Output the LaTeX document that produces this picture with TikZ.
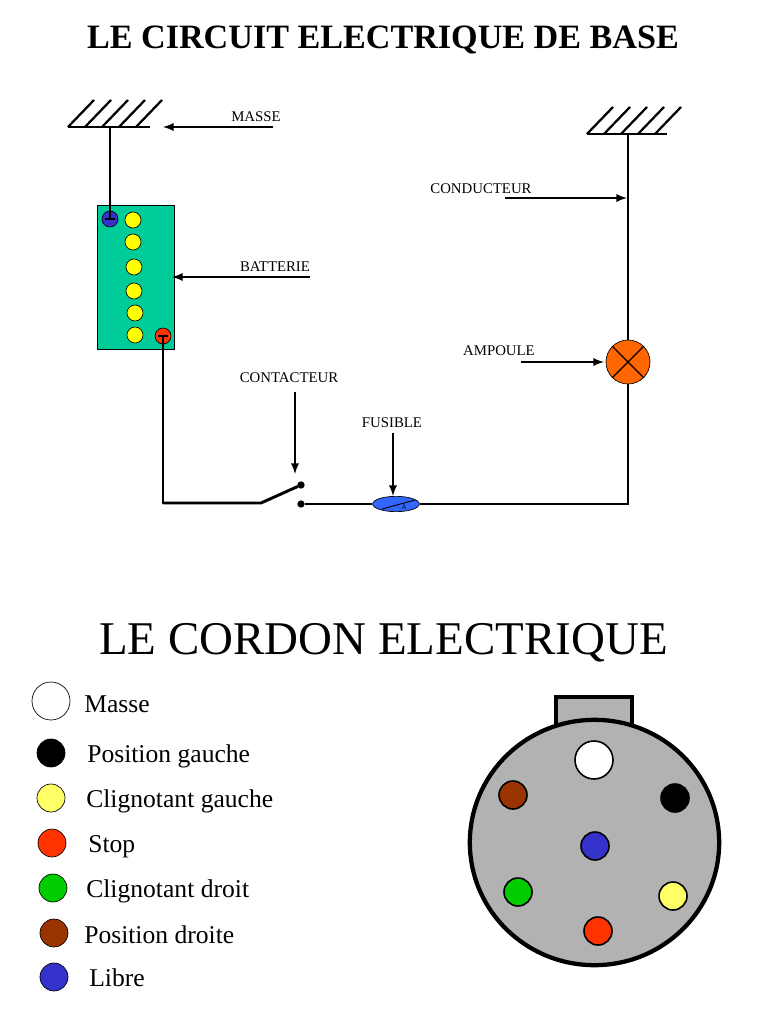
\documentclass[tikz,border=0pt]{standalone}
\usepackage{fontspec}
\setmainfont{Liberation Serif}
\usetikzlibrary{shapes.geometric}

\definecolor{battgreen}{RGB}{0,204,153}
\definecolor{cellyellow}{RGB}{255,255,0}
\definecolor{minusblue}{RGB}{51,51,204}
\definecolor{plusred}{RGB}{255,51,0}
\definecolor{lamporange}{RGB}{255,102,0}
\definecolor{fuseblue}{RGB}{51,102,255}
\definecolor{plugyellow}{RGB}{255,255,102}
\definecolor{pluggreen}{RGB}{0,204,0}
\definecolor{plugbrown}{RGB}{153,51,0}
\definecolor{pluggrey}{RGB}{178,178,178}

\begin{document}
\begin{tikzpicture}[x=0.75pt,y=-0.75pt,>=latex,
    wire/.style={line width=2.2pt},
    pointer/.style={line width=1.7pt,->},
    tag/.style={font=\fontsize{11.1}{13}\selectfont,inner sep=0pt},
    entry/.style={font=\fontsize{19.2}{22}\selectfont,anchor=base west,inner sep=0pt},
    dot/.style={circle,draw=black,line width=0.5pt,inner sep=0pt,minimum size=12pt},
    pin/.style={circle,draw=black,line width=1.2pt,inner sep=0pt,minimum size=21pt},
    stud/.style={circle,fill=black,inner sep=0pt,minimum size=5.5pt}]

  \useasboundingbox (0,0) rectangle (768,1024);

  % titles
  \node[font=\bfseries\fontsize{25.6}{30}\selectfont] (title1) at (383,40) {LE CIRCUIT ELECTRIQUE DE BASE};
  \node[font=\fontsize{35.2}{42}\selectfont] (title2) at (383.5,643) {LE CORDON ELECTRIQUE};

  % draw the two ground symbols
  \foreach \x/\y/\w/\name in {68/127/82/gndL, 587/134/80/gndR} {
    \draw[wire] (\x,\y) -- ++(\w,0);
    \foreach \k in {0,17,34,51,68} {
      \draw[line width=1.7pt] (\x+\k,\y) -- ++(26,-27);
    }
  }
  \coordinate (gndL) at (110,127);
  \coordinate (gndR) at (628,134);

  % battery with its cells
  \node[draw=black,line width=0.5pt,fill=battgreen,minimum width=57.75pt,minimum height=108pt,inner sep=0pt] (batt) at (135.5,277) {};
  \foreach \x/\y [count=\i] in {133/220,133/242,134/267,134/291,135/313,135/335} {
    \node[dot,fill=cellyellow] (cell\i) at (\x,\y) {};
  }
  \node[dot,fill=minusblue] (neg) at (110,219) {};
  \node[dot,fill=plusred] (pos) at (163,336) {};
  \draw[line width=1pt] (neg.center) ++(-5,0) -- ++(10,0);
  \draw[line width=1pt] (pos.center) ++(-5,0) -- ++(10,0);

  % switch, fuse, lamp
  \node[stud] (sw1) at (301,485) {};
  \node[stud] (sw2) at (301,504) {};
  \coordinate (hinge) at (261,503);
  \coordinate (corner1) at (163,503);
  \coordinate (corner2) at (628,504);
  \node[ellipse,draw=black,line width=0.5pt,fill=fuseblue,minimum width=35pt,minimum height=11.5pt,inner sep=0pt] (fuse) at (396,504) {};
  \draw[line width=0.7pt] (382,509) -- (415,500);
  \node[font=\fontsize{5.5}{6}\selectfont,inner sep=0pt] (fuseval) at (404,507) {A};
  \node[circle,draw=black,line width=0.5pt,fill=lamporange,minimum size=33pt,inner sep=0pt] (lamp) at (628,362) {};
  \draw[line width=1pt] (lamp.north east) -- (lamp.south west);
  \draw[line width=1pt] (lamp.north west) -- (lamp.south east);

  % wires of the circuit
  \draw[line width=1.6pt] (gndL) -- (neg.center);
  \draw[line width=1.6pt] (pos.center) -- (corner1);
  \draw[wire,line cap=round,line join=round] (corner1) -- (hinge) -- (sw1);
  \draw[line width=1.5pt] (sw2) -- (fuse);
  \draw[wire] (fuse) -- (corner2) -- (lamp);
  \draw[wire] (lamp) -- (gndR);

  % labels with their arrows
  \foreach \name/\txt/\lx/\ly/\sx/\sy/\ex/\ey in {
    masse/MASSE/256/117/273/127/163/127,
    batterie/BATTERIE/275/267/310/277/172/277,
    conducteur/CONDUCTEUR/481/189/505/198/627/198,
    ampoule/AMPOULE/499/351/521/362/604/362,
    contacteur/CONTACTEUR/289/378/295/392/295/474,
    fusible/FUSIBLE/392/423/393/433/393/496} {
    \node[tag] (\name) at (\lx,\ly) {\txt};
    \coordinate (\name-s) at (\sx,\sy);
    \coordinate (\name-e) at (\ex,\ey);
    \draw[pointer] (\name-s) -- (\name-e);
  }

  % legend
  \node[pin,line width=0.5pt,fill=white,minimum size=28.5pt] (legA) at (51,701) {};
  \foreach \col/\x/\y/\tx/\ty/\txt [count=\i] in {
    black/51/753/87/762/Position gauche,
    plugyellow/51/798/86/807/Clignotant gauche,
    plusred/52/843/88/852/Stop,
    pluggreen/53/888/86/897/Clignotant droit,
    plugbrown/54/933/84/943/Position droite,
    minusblue/54/977/89/986/Libre} {
    \node[pin,line width=0.5pt,fill=\col] (leg\i) at (\x,\y) {};
    \node[entry] (legtxt\i) at (\tx,\ty) {\txt};
  }
  \node[entry] (legtxtA) at (84,712) {Masse};

  % draw the plug
  \node[draw=black,line width=3.2pt,fill=pluggrey,minimum width=57pt,minimum height=25.5pt,inner sep=0pt] (tab) at (594,714) {};
  \node[ellipse,draw=black,line width=3.2pt,fill=pluggrey,minimum width=187pt,minimum height=184pt,inner sep=0pt] (plug) at (594.5,842.5) {};
  \node[pin,fill=white,minimum size=28.5pt] (pinA) at (594,760) {};
  \foreach \col/\x/\y [count=\i] in {
    black/675/798,
    plugyellow/673/896,
    plusred/598/931,
    pluggreen/518/892,
    plugbrown/513/795,
    minusblue/595/846} {
    \node[pin,fill=\col] (pin\i) at (\x,\y) {};
  }

\end{tikzpicture}
\end{document}
